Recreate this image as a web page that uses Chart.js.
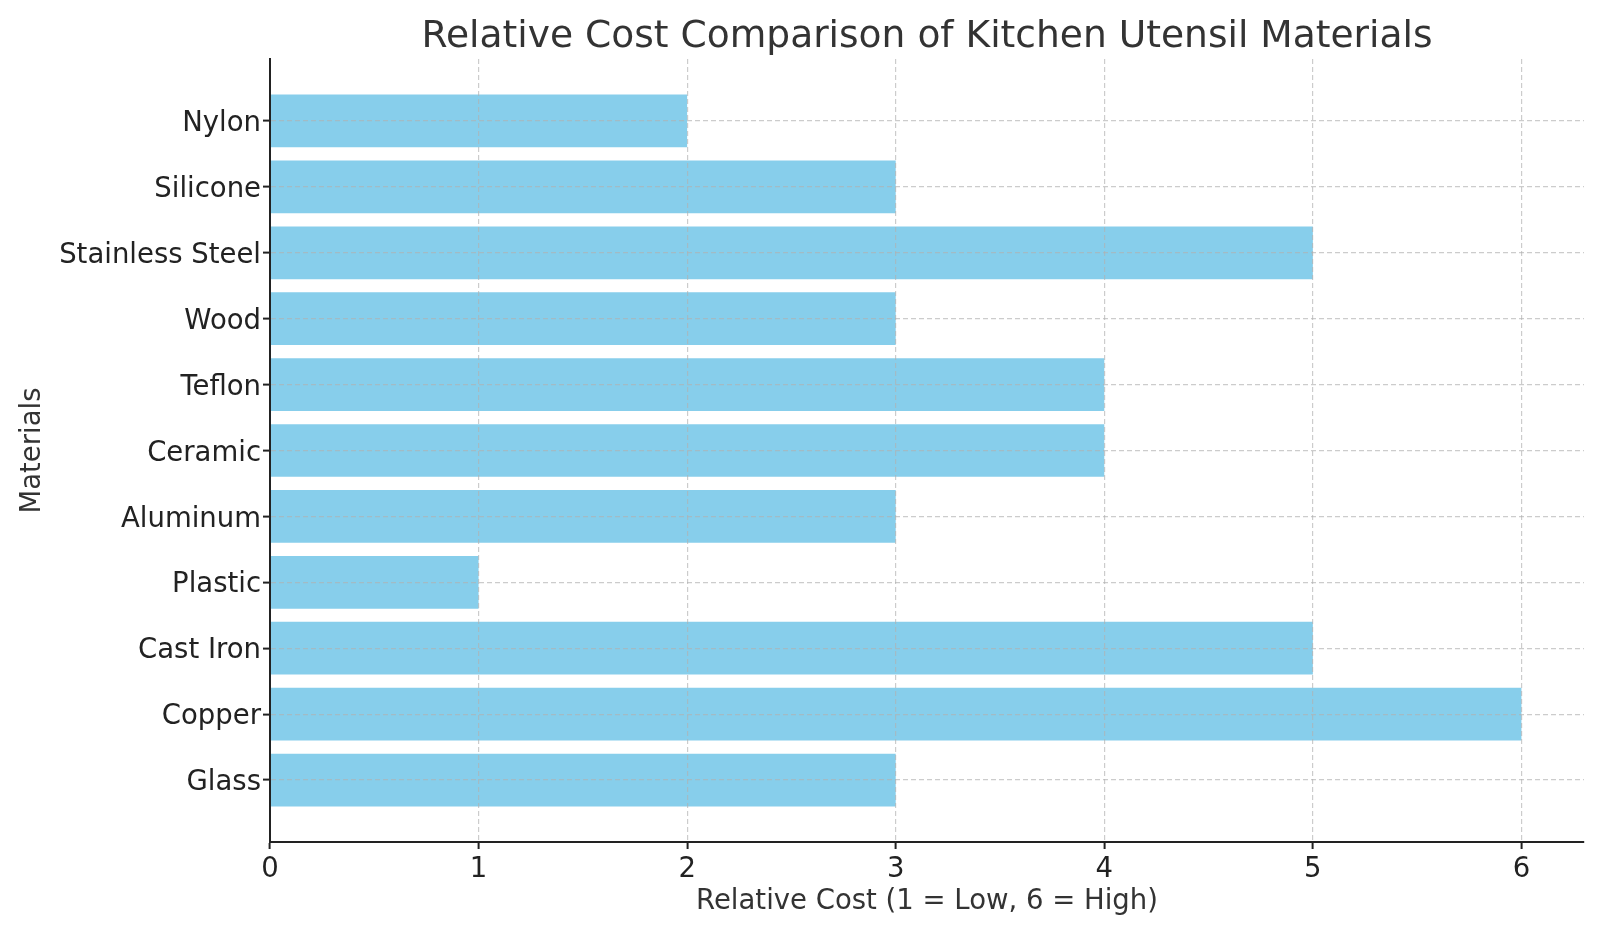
<!DOCTYPE html>
<html lang="en">
<head>
    <meta charset="UTF-8">
    <title>Relative Cost Comparison of Kitchen Utensil Materials</title>
    <script src="https://cdn.jsdelivr.net/npm/chart.js"></script>
    <style>
        html, body { margin: 0; padding: 0; background: #fff; }
        canvas { display: block; }
    </style>
</head>
<body>
    <canvas id="costChart" width="1600" height="933"></canvas>

    <script>
        // data (bottom to top)
        const materials = ['Glass', 'Copper', 'Cast Iron', 'Plastic', 'Aluminum', 'Ceramic',
                           'Teflon', 'Wood', 'Stainless Steel', 'Silicone', 'Nylon'];
        const relativeCost = [3, 6, 5, 1, 3, 4, 4, 3, 5, 3, 2];
        const costTicks = [0, 1, 2, 3, 4, 5, 6];

        const chartTitle = 'Relative Cost Comparison of Kitchen Utensil Materials';
        const fontFamily = "'DejaVu Sans', sans-serif";
        const gridColor = 'rgba(176, 176, 176, 0.65)';

        // title centred over the plot area, like matplotlib does
        const titlePlugin = {
            id: 'plotTitle',
            afterDraw(chart) {
                const ctx = chart.ctx;
                const area = chart.chartArea;
                ctx.save();
                ctx.font = '37.6px ' + fontFamily;
                ctx.fillStyle = '#333333';
                ctx.textAlign = 'center';
                ctx.textBaseline = 'alphabetic';
                ctx.fillText(chartTitle, (area.left + area.right) / 2, 47);
                ctx.restore();
            }
        };

        const ctx = document.getElementById('costChart').getContext('2d');
        new Chart(ctx, {
            type: 'bar',
            data: {
                datasets: [{
                    data: relativeCost.map((v, i) => ({ x: v, y: i })),
                    backgroundColor: '#87CEEB',
                    borderWidth: 0,
                    barPercentage: 0.8,
                    categoryPercentage: 1.0
                }]
            },
            options: {
                indexAxis: 'y',
                responsive: false,
                animation: false,
                layout: { padding: { top: 59, right: 16, left: 0, bottom: 0 } },
                plugins: {
                    legend: { display: false },
                    tooltip: { enabled: false },
                    title: { display: false }
                },
                scales: {
                    x: {
                        type: 'linear',
                        position: 'bottom',
                        min: 0,
                        max: 6.3,
                        afterBuildTicks: (scale) => { scale.ticks = costTicks.map(v => ({ value: v })); },
                        afterFit: (scale) => { scale.height = 91; },
                        ticks: {
                            color: '#222222',
                            font: { family: fontFamily, size: 27.5 },
                            padding: 4,
                            maxRotation: 0
                        },
                        grid: {
                            z: 1,
                            color: gridColor,
                            lineWidth: 1.2,
                            tickColor: '#222222',
                            tickLength: 7,
                            tickWidth: 2
                        },
                        border: { display: true, color: '#222222', width: 2, z: 2, dash: [5, 3] },
                        title: {
                            display: true,
                            text: 'Relative Cost (1 = Low, 6 = High)',
                            color: '#333333',
                            font: { family: fontFamily, size: 27.5 },
                            padding: { top: 0, bottom: 15 }
                        }
                    },
                    y: {
                        type: 'linear',
                        min: -0.94,
                        max: 10.94,
                        offset: false,
                        afterBuildTicks: (scale) => { scale.ticks = materials.map((m, i) => ({ value: i })); },
                        afterFit: (scale) => { scale.width = 270; },
                        ticks: {
                            color: '#222222',
                            font: { family: fontFamily, size: 27.5 },
                            padding: 2,
                            labelOffset: 3,
                            callback: (value) => materials[value]
                        },
                        grid: {
                            z: 1,
                            offset: false,
                            color: gridColor,
                            lineWidth: 1.2,
                            tickColor: '#222222',
                            tickLength: 7,
                            tickWidth: 2
                        },
                        border: { display: true, color: '#222222', width: 2, z: 2, dash: [5, 3] },
                        title: {
                            display: true,
                            text: 'Materials',
                            color: '#333333',
                            font: { family: fontFamily, size: 27.5 },
                            padding: { top: 16, bottom: 0 }
                        }
                    }
                }
            },
            plugins: [titlePlugin]
        });
    </script>
</body>
</html>
